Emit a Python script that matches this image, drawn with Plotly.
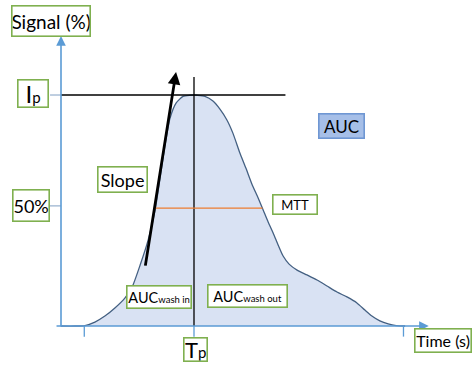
import plotly.graph_objects as go

# ---- data (time in s, signal in %) ----
time = [0, 4.2, 7.2, 10.2, 13.2, 16.2, 19.2, 21.4, 23.8, 26.2, 28.3, 29.8, 31.3, 32.8,
        34.6, 36.7, 38.8, 40.0, 40.9, 43.3, 45.7, 47.8, 49.9, 51.7, 53.8, 55.6, 57.4,
        59.3, 60.8, 62.3, 63.8, 65.3, 66.8, 68.6, 71.0, 74.0, 77.0, 80.0, 83.0, 86.0,
        89.0, 91.4, 93.5, 95.9, 98.4, 100.8, 103.5]
signal = [0, 0, 0.2, 1.7, 4.3, 7.8, 12.1, 16.9, 26.4, 37.2, 50.2, 64.1, 78.4, 90.0,
          96.5, 99.4, 99.9, 100.0, 99.9, 99.4, 97.4, 93.9, 89.2, 83.5, 74.9, 68.4, 61.5,
          55.4, 50.2, 45.0, 40.3, 35.1, 30.3, 26.8, 24.2, 22.1, 19.9, 17.3, 14.7, 12.6,
          10.0, 6.9, 4.3, 2.2, 0.9, 0.2, 0]

IP = 100          # peak intensity
TP = 40           # time to peak
MTT_LEVEL = 51    # half-max level line
MTT_T = [28.2, 60.6]
HALF_TICK = 52
X_TICKS = [7, TP, 103]
SLOPE_T = [25.3, 34.6]
SLOPE_S = [25.5, 110]

AXIS = "#5B9BD5"
TICK = "#9DB5D0"
GREEN = "#7FB04F"
FONT = "Lato"

fig = go.Figure()

# filled curve
fig.add_trace(go.Scatter(x=time, y=signal, mode="lines", fill="tozeroy",
                         fillcolor="rgb(217,226,243)",
                         line=dict(color="rgb(68,96,130)", width=1.3, shape="spline", smoothing=0.6),
                         hoverinfo="skip"))

# Ip horizontal line
fig.add_trace(go.Scatter(x=[0, 67.5], y=[IP, IP], mode="lines",
                         line=dict(color="black", width=1.3), hoverinfo="skip"))
# Tp vertical line
fig.add_trace(go.Scatter(x=[TP, TP], y=[0, 107.8], mode="lines",
                         line=dict(color="black", width=1.3), hoverinfo="skip"))
# MTT orange line
fig.add_trace(go.Scatter(x=MTT_T, y=[MTT_LEVEL, MTT_LEVEL], mode="lines",
                         line=dict(color="#ED7D31", width=1.3), hoverinfo="skip"))

# y ticks
for yv, x0 in [(IP, -3.3), (HALF_TICK, -3.9)]:
    fig.add_trace(go.Scatter(x=[x0, 0], y=[yv, yv], mode="lines",
                             line=dict(color=TICK, width=1.3), hoverinfo="skip"))
# x ticks
for xv in X_TICKS:
    fig.add_trace(go.Scatter(x=[xv, xv], y=[0, -4.6], mode="lines",
                             line=dict(color=AXIS, width=1.3), hoverinfo="skip"))

annos = []
# axes with arrows
annos.append(dict(x=110.6, y=0, ax=-1.8, ay=0, xref="x", yref="y", axref="x", ayref="y",
                  showarrow=True, arrowhead=2, arrowsize=1.2, arrowwidth=1.6,
                  arrowcolor=AXIS, text=""))
annos.append(dict(x=0, y=125.5, ax=0, ay=-0.9, xref="x", yref="y", axref="x", ayref="y",
                  showarrow=True, arrowhead=2, arrowsize=1.2, arrowwidth=1.6,
                  arrowcolor=AXIS, text=""))
# slope arrow
annos.append(dict(x=SLOPE_T[1], y=SLOPE_S[1], ax=SLOPE_T[0], ay=SLOPE_S[0],
                  xref="x", yref="y", axref="x", ayref="y",
                  showarrow=True, arrowhead=2, arrowsize=0.9, arrowwidth=2.8,
                  arrowcolor="black", text=""))


def box(text, x, y, w, h, size, bg="white", border=GREEN):
    annos.append(dict(x=x, y=y, xref="x", yref="y", text=text, showarrow=False,
                      width=w, height=h, bgcolor=bg, bordercolor=border, borderwidth=1.6,
                      borderpad=0, align="center", valign="middle",
                      font=dict(family=FONT, size=size, color="black")))


box("Signal (%)", -2.86, 132.25, 77, 29, 19)
box('I<span style="font-size:15px">p</span>', -8.42, 100.6, 29, 26, 24)
box("50%", -9.02, 52.2, 35, 30, 18)
box("Slope", 18.5, 63.4, 48, 24, 18)
box("MTT", 70.4, 52.6, 43, 18, 13)
box("AUC", 84.4, 86.6, 44, 23, 17, bg="#A6BFE8", border="#6F97D3")
box('AUC<span style="font-size:9.5px">wash in</span>', 29.5, 12.55, 63, 21, 14.5)
box('AUC<span style="font-size:9.5px">wash out</span>', 56.1, 12.8, 78, 21, 14.5)
box('T<span style="font-size:15px">p</span>', 40.45, -10.2, 22, 22, 22)
box("Time (s)", 115.0, -6.3, 55, 22, 16)

fig.update_layout(
    width=474, height=366, margin=dict(l=0, r=0, t=0, b=0),
    paper_bgcolor="white", plot_bgcolor="white", showlegend=False,
    xaxis=dict(range=[-18.346, 124.21], visible=False, fixedrange=True),
    yaxis=dict(range=[-17.316, 141.13], visible=False, fixedrange=True),
    annotations=annos,
)

fig.write_html("out.html")
